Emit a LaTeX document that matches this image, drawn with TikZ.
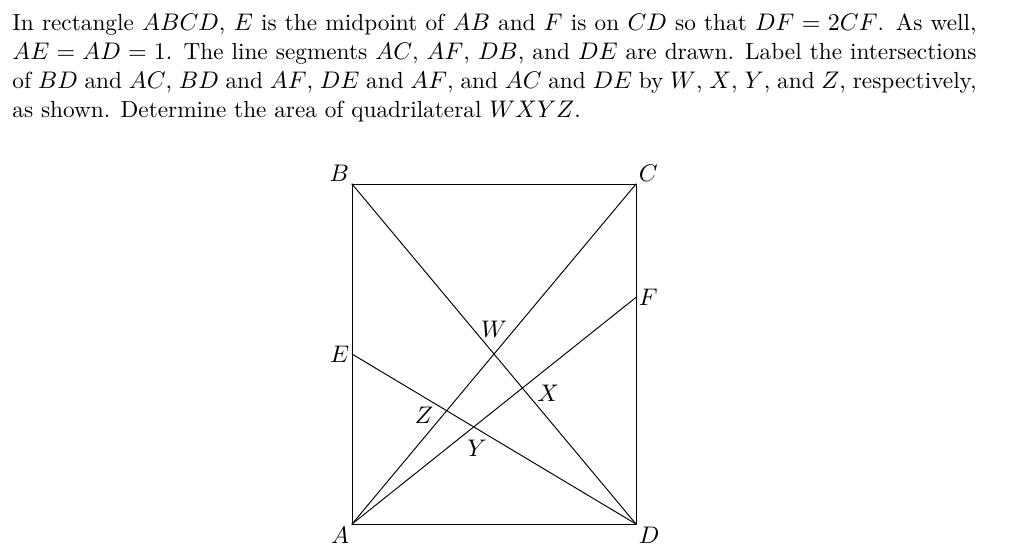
\documentclass[tikz,border=0pt]{standalone}
\usepackage{tkz-euclide}
\usetikzlibrary{calc}

\begin{document}
\begin{tikzpicture}
\tkzSetUpLine[line width=0.4pt,color=black]
\useasboundingbox (-5.155,-0.498) rectangle (9.914,7.674);

\node[anchor=north west,inner sep=0pt,text width=401.7pt,align=justify,
  font=\fontsize{9.7}{12.08}\selectfont] (problem) at (-4.979,7.48)
{In rectangle $ABCD$, $E$ is the midpoint of $AB$ and $F$ is on $CD$ so that $DF=2CF$. As well,\linebreak
$AE=AD=1$. The line segments $AC$, $AF$, $DB$, and $DE$ are drawn. Label the intersections\linebreak
of $BD$ and $AC$, $BD$ and $AF$, $DE$ and $AF$, and $AC$ and $DE$ by $W$, $X$, $Y$, and $Z$, respectively,\linebreak
as shown. Determine the area of quadrilateral $WXYZ$.};

\tkzDefPoints{0/0/A,0/4.979/B,4.159/4.979/C,4.159/0/D}
\tkzDefMidPoint(A,B) \tkzGetPoint{E}
\tkzDefBarycentricPoint(D=1,C=2) \tkzGetPoint{F}

\tkzInterLL(A,C)(B,D) \tkzGetPoint{W}
\tkzInterLL(B,D)(A,F) \tkzGetPoint{X}
\tkzInterLL(D,E)(A,F) \tkzGetPoint{Y}
\tkzInterLL(A,C)(D,E) \tkzGetPoint{Z}

\tkzDrawSegments(A,B B,C C,D D,A)
\tkzDrawSegments(A,C A,F D,B D,E)

\tkzLabelPoint[above left,inner sep=1pt](B){$B$}
\tkzLabelPoint[above right,inner sep=1pt](C){$C$}
\tkzLabelPoint[below left,inner sep=1pt](A){$A$}
\tkzLabelPoint[below right,inner sep=1pt](D){$D$}
\tkzLabelPoint[left,inner sep=1pt](E){$E$}
\tkzLabelPoint[right,inner sep=1pt](F){$F$}

\tkzLabelPoint[above=6.5pt,inner sep=0pt](W){$W$}
\tkzLabelPoint[right=6pt,yshift=-2pt,inner sep=0pt](X){$X$}
\tkzLabelPoint[below=5.5pt,xshift=1.4pt,inner sep=0pt](Y){$Y$}
\tkzLabelPoint[left=5.5pt,yshift=-2pt,inner sep=0pt](Z){$Z$}

\end{tikzpicture}
\end{document}
